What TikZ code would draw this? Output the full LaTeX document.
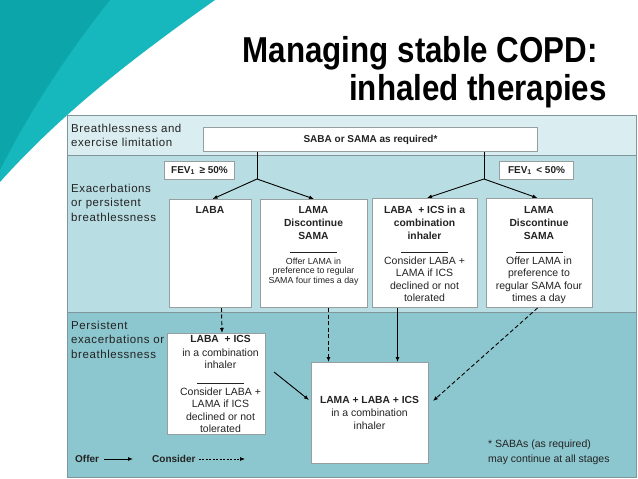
\documentclass[tikz,border=0pt]{standalone}
\usepackage{fontspec}
\usepackage{graphicx}
\setmainfont{Liberation Sans}
\usetikzlibrary{arrows.meta}
\definecolor{tealA}{RGB}{22,184,190}
\definecolor{tealB}{RGB}{12,166,170}
\definecolor{bandA}{RGB}{218,238,241}
\definecolor{bandB}{RGB}{184,221,226}
\definecolor{bandC}{RGB}{140,198,206}
\definecolor{bandline}{RGB}{128,150,155}
\definecolor{boxline}{RGB}{150,158,160}
\definecolor{txt}{RGB}{35,35,35}
\begin{document}
\begin{tikzpicture}[x=1pt,y=-1pt,
 band/.style={draw=bandline, line width=1pt},
 box/.style={draw=boxline, fill=white, line width=1pt, inner sep=0, anchor=north west, text=txt},
 lbl/.style={anchor=north west, inner sep=0, align=left, text=txt, font=\fontsize{11.5}{14.5}\selectfont\addfontfeatures{LetterSpace=5}},
 bt/.style={anchor=north, inner sep=0, align=center, text=txt, font=\fontsize{10.3}{13}\selectfont\bfseries},
 rt/.style={anchor=north, inner sep=0, align=center, text=txt, font=\fontsize{10.5}{12.5}\selectfont},
 st/.style={anchor=north, inner sep=0, align=center, text=txt, font=\fontsize{8.8}{9.8}\selectfont},
 sepline/.style={draw=txt, line width=0.7pt},
 link/.style={draw=black, line width=0.9pt},
 arr/.style={link, -{Latex[length=5pt,width=4pt]}},
 darr/.style={arr, dash pattern=on 4pt off 2.5pt},
]
\useasboundingbox (0,0) rectangle (638,479);
\fill[white] (0,0) rectangle (638,479);
% swoosh
\fill[tealA] (0,0) -- (215,0) .. controls (130,60) and (60,115) .. (0,182) -- cycle;
\fill[tealB] (0,0) -- (110,0) .. controls (70,50) and (30,110) .. (0,170) -- cycle;
% title
\node[anchor=base east, inner sep=0, font=\fontsize{36}{40}\selectfont\bfseries] (t1) at (598,62) {\scalebox{0.87}[1]{Managing stable COPD:}};
\node[anchor=base east, inner sep=0, font=\fontsize{36}{40}\selectfont\bfseries] (t2) at (607,100) {\scalebox{0.87}[1]{inhaled therapies}};
% bands
\path[band, fill=bandA] (67,115) rectangle (636,155);
\path[band, fill=bandB] (67,155) rectangle (636,312);
\path[band, fill=bandC] (67,312) rectangle (636,477);
\node[lbl] (l1) at (71,123.7) {Breathlessness and\\exercise limitation};
\node[lbl] (l2) at (71,183.7) {Exacerbations\\or persistent\\breathlessness};
\node[lbl] (l3) at (71,320.7) {Persistent\\exacerbations or\\breathlessness};
% top box
\node[box, minimum width=334pt, minimum height=24pt, font=\fontsize{10}{12}\selectfont\bfseries] (saba) at (203,127) {SABA or SAMA as required*};
\node[box, minimum width=70pt, minimum height=18pt, font=\fontsize{10}{12}\selectfont\bfseries] (fev1) at (164,161) {FEV\textsubscript{1} \,≥ 50\%};
\node[box, minimum width=74pt, minimum height=18pt, font=\fontsize{10}{12}\selectfont\bfseries] (fev2) at (499,161) {FEV\textsubscript{1} \,< 50\%};
% second row boxes
\node[box, minimum width=82pt, minimum height=108pt] (laba) at (169,199) {};
\node[box, minimum width=107pt, minimum height=108pt] (lama1) at (260,199) {};
\node[box, minimum width=105pt, minimum height=109pt] (labaics) at (372,198) {};
\node[box, minimum width=106pt, minimum height=109pt] (lama2) at (486,198) {};
\node[bt] (labaT) at (210,206) {LABA};
\node[bt] (lama1T) at (313.5,206) {LAMA\\Discontinue\\SAMA};
\node[st] (lama1B) at (313.5,257.5) {Offer LAMA in\\preference to regular\\SAMA four times a day};
\node[bt] (labaicsT) at (424.5,206) {LABA~ + ICS in a\\combination\\inhaler};
\node[rt] (labaicsB) at (424.5,256.4) {Consider LABA +\\LAMA if ICS\\declined or not\\tolerated};
\node[bt] (lama2T) at (539,206) {LAMA\\Discontinue\\SAMA};
\node[rt] (lama2B) at (539,256.4) {Offer LAMA in\\preference to\\regular SAMA four\\times a day};
\draw[sepline] (290,252.5) -- (337,252.5);
\draw[sepline] (401,252.5) -- (448,252.5);
\draw[sepline] (515.5,252.5) -- (562.5,252.5);
% third row boxes
\node[box, minimum width=98pt, minimum height=101pt] (labaics2) at (167,333) {};
\node[box, minimum width=117pt, minimum height=101pt] (triple) at (311,362) {};
\node[bt] (labaics2T) at (220.5,335) {LABA~ + ICS};
\node[rt] (labaics2M) at (220.5,348.4) {in a combination\\inhaler};
\node[rt] (labaics2B) at (220.5,387.4) {Consider LABA +\\LAMA if ICS\\declined or not\\tolerated};
\draw[sepline] (197,383) -- (244,383);
\node[bt] (tripleT) at (369.5,396) {LAMA + LABA + ICS};
\node[rt] (tripleB) at (369.5,409) {in a combination\\inhaler};
% tree connectors
\coordinate (jl) at (257,179);
\coordinate (jr) at (484,179);
\draw[link] (saba.south -| jl) -- (jl);
\draw[link] (saba.south -| jr) -- (jr);
\draw[arr] (jl) -- ([xshift=2pt]laba.north);
\draw[arr] (jl) -- (lama1.north);
\draw[arr] (jr) -- ([xshift=2pt]labaics.north);
\draw[arr] (jr) -- ([xshift=-2pt]lama2.north);
% lower connectors
\draw[darr] ([xshift=11pt]laba.south) -- ([xshift=5.5pt]labaics2.north);
\draw[darr] ([xshift=14.5pt]lama1.south) -- ([xshift=14.5pt]lama1.south |- triple.north);
\draw[arr] ([xshift=-27.5pt]labaics.south) -- ([xshift=-27.5pt]labaics.south |- triple.north);
\draw[darr] ([xshift=-2pt]lama2.south) -- ([xshift=4pt,yshift=12pt]triple.east);
\draw[arr] ([xshift=8pt,yshift=12pt]labaics2.east) -- ([xshift=-2pt,yshift=13pt]triple.west);
% legend
\node[anchor=west, inner sep=0, text=txt, font=\fontsize{10}{12}\selectfont\bfseries] (offer) at (75,459) {Offer};
\node[anchor=west, inner sep=0, text=txt, font=\fontsize{10}{12}\selectfont\bfseries] (consider) at (152,459) {Consider};
\coordinate (legend end) at (245,459);
\draw[arr] ([xshift=5pt]offer.east) -- ([xshift=-19pt]consider.west);
\draw[arr, dash pattern=on 2pt off 1.5pt, line width=0.7pt] ([xshift=3pt]consider.east) -- (legend end);
% note
\node[anchor=north west, inner sep=0, align=left, text=txt, font=\fontsize{10.5}{15}\selectfont] (note) at (488,439.5) {* SABAs (as required)\\may continue at all stages};
\end{tikzpicture}
\end{document}
